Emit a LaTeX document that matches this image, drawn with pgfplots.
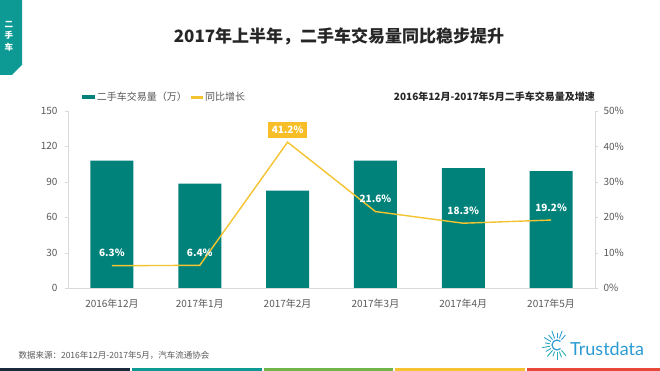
\documentclass[border=0pt]{standalone}
\usepackage{pgfplots}
\pgfplotsset{compat=1.18}
\usepackage{fontspec}
\setmainfont{Noto Sans CJK SC}
\newfontfamily\logofont{Lato}
\definecolor{barteal}{RGB}{0,130,123}
\definecolor{lineyellow}{RGB}{243,196,48}
\definecolor{boxyellow}{RGB}{247,190,40}
\definecolor{tickgray}{RGB}{89,89,89}
\definecolor{axgray}{RGB}{217,217,217}
\definecolor{titlegray}{RGB}{38,38,38}
\definecolor{tabteal}{RGB}{14,154,148}
\definecolor{bnavy}{RGB}{27,42,58}
\definecolor{bteal}{RGB}{14,154,148}
\definecolor{bgreen}{RGB}{112,181,72}
\definecolor{byellow}{RGB}{245,194,50}
\definecolor{bred}{RGB}{232,72,58}
\definecolor{logoblue}{RGB}{44,155,212}
\definecolor{logoteal}{RGB}{36,179,168}
\begin{document}
\begin{tikzpicture}
\path[use as bounding box] (0pt,0pt) rectangle (660pt,-371pt);
\fill[white] (0pt,0pt) rectangle (660pt,-371pt);
% side tab
\fill[tabteal] (0pt,0pt) -- (22pt,0pt) -- (22pt,-65pt) -- (12pt,-75pt) -- (0pt,-75pt) -- cycle;
\node[text=white,font=\bfseries\fontsize{8.5}{11.5}\selectfont,align=center] at (9pt,-36pt) {二\\手\\车};
% title
\node[text=titlegray,font=\bfseries\fontsize{17}{20}\selectfont] at (339pt,-36pt) {2017年上半年，二手车交易量同比稳步提升};
% subtitle
\node[text=titlegray,font=\bfseries\fontsize{10}{12}\selectfont,anchor=east,inner sep=0pt] at (595pt,-97pt) {2016年12月-2017年5月二手车交易量及增速};

\begin{axis}[
  at={(68pt,-288pt)}, anchor=south west,
  width=527pt, height=177pt, scale only axis,
  xmin=-0.5, xmax=5.5, ymin=0, ymax=150,
  xtick={0,1,2,3,4,5},
  xticklabels={2016年12月,2017年1月,2017年2月,2017年3月,2017年4月,2017年5月},
  ytick={0,30,60,90,120,150},
  axis x line*=bottom, axis y line*=left,
  axis line style={-,draw=axgray},
  tick align=outside, major tick length=3pt,
  ytick style={draw=axgray}, xtick style={draw=none},
  tick label style={font=\fontsize{10}{12}\selectfont, text=tickgray},
  /pgf/number format/assume math mode=true,
  yticklabel style={xshift=-4pt},
  xticklabel style={yshift=-5pt},
  legend style={at={(0.026,1.077)}, anchor=west, draw=none, fill=none,
    inner sep=0pt, font=\fontsize{10}{12}\selectfont, text=tickgray},
  legend cell align=left,
  clip=false,
]
\addplot[ybar, bar width=43pt, fill=barteal, draw=none,
  legend image code/.code={\fill[barteal] (0pt,-2pt) rectangle (13pt,2pt);}]
  coordinates {(0,108) (1,88.5) (2,82.5) (3,108) (4,101.5) (5,99)};
\addlegendentry{二手车交易量（万）}
\end{axis}

\begin{axis}[
  at={(68pt,-288pt)}, anchor=south west,
  width=527pt, height=177pt, scale only axis,
  xmin=-0.5, xmax=5.5, ymin=0, ymax=50,
  ytick={0,10,20,30,40,50},
  yticklabel={\pgfmathprintnumber{\tick}\%},
  axis x line*=bottom, axis y line*=right,
  x axis line style={draw=none}, xtick=\empty,
  axis line style={-,draw=axgray},
  tick align=outside, major tick length=3pt,
  ytick style={draw=axgray},
  tick label style={font=\fontsize{10}{12}\selectfont, text=tickgray},
  /pgf/number format/assume math mode=true,
  yticklabel style={xshift=2pt},
  legend style={at={(0.2325,1.077)}, anchor=west, draw=none, fill=none,
    inner sep=0pt, font=\fontsize{10}{12}\selectfont, text=tickgray},
  legend cell align=left,
  clip=false,
]
\addplot[lineyellow, line width=1.4pt, mark=none,
  legend image code/.code={\fill[lineyellow] (0pt,-0.75pt) rectangle (11pt,0.75pt);}]
  coordinates {(0,6.3) (1,6.4) (2,41.2) (3,21.6) (4,18.3) (5,19.2)};
\addlegendentry{同比增长}
\addplot[draw=none, mark=none, nodes near coords align={center},
  nodes near coords={\pgfmathprintnumber[fixed,precision=1,fixed zerofill]{\pgfplotspointmeta}\%},
  every node near coord/.append style={font=\bfseries\fontsize{10}{12}\selectfont, text=white, anchor=center, yshift=12.5pt}]
  coordinates {(0,6.3) (1,6.4) (3,21.6) (4,18.3) (5,19.2)};
\addplot[draw=none, mark=none, nodes near coords align={center},
  nodes near coords={\pgfmathprintnumber[fixed,precision=1,fixed zerofill]{\pgfplotspointmeta}\%},
  every node near coord/.append style={font=\bfseries\fontsize{10}{12}\selectfont, text=white, fill=boxyellow, inner xsep=3.5pt, inner ysep=4pt, anchor=center, yshift=12.5pt}]
  coordinates {(2,41.2)};
\end{axis}

% footer
\node[anchor=west,text=tickgray,font=\fontsize{8.5}{10}\selectfont] at (15pt,-355pt) {数据来源：2016年12月-2017年5月，汽车流通协会};
% logo
\begin{scope}[shift={(557pt,-345pt)}]
\foreach \a/\r in {50/13,70/15,90/12,110/15,130/13,150/15,170/12,190/15,210/13,230/15,250/12,270/15,290/13,310/14}{
  \pgfmathsetmacro{\mix}{int(100-(\a-50)/3)}
  \draw[line width=0.9pt, color=logoblue!\mix!logoteal] (\a:7pt) -- (\a:\r pt);
}
\draw[line width=1.2pt, logoblue] (45:5pt) arc (45:315:5pt);
\end{scope}
\node[anchor=west,text=logoblue,font=\logofont\fontsize{18}{20}\selectfont,inner sep=0pt] at (570pt,-349pt) {Trustdata};
% bottom bars
\fill[bnavy] (0pt,-367.5pt) rectangle (130pt,-371pt);
\fill[bteal] (132pt,-367.5pt) rectangle (262pt,-371pt);
\fill[bgreen] (264pt,-367.5pt) rectangle (393pt,-371pt);
\fill[byellow] (395pt,-367.5pt) rectangle (525pt,-371pt);
\fill[bred] (527pt,-367.5pt) rectangle (660pt,-371pt);
\end{tikzpicture}
\end{document}
